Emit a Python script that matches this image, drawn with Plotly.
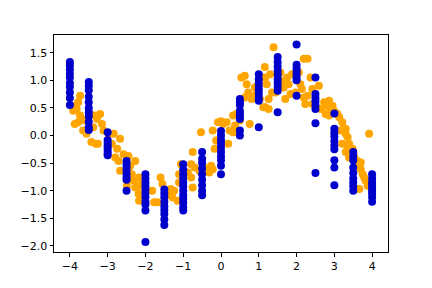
import plotly.graph_objects as go

# Blue: samples at discrete x positions
blue_x_levels = [-4, -3.5, -3, -2.5, -2, -1.5, -1, -0.5, 0, 0.5, 1, 1.5, 2, 2.5, 3, 3.5, 4]
blue_y_groups = [
    [1.33, 1.27, 1.2, 1.12, 1.05, 0.95, 0.88, 0.78, 0.68, 0.55],
    [0.97, 0.9, 0.82, 0.7, 0.6, 0.5, 0.42, 0.35, 0.25, 0.15, 0.1],
    [0.06, -0.08, -0.13, -0.18, -0.22, -0.27, -0.32, -0.36],
    [-0.46, -0.52, -0.58, -0.64, -0.7, -0.76, -0.8, -1.0],
    [-0.7, -0.78, -0.85, -0.92, -0.98, -1.05, -1.12, -1.2, -1.25, -1.36, -1.93],
    [-0.98, -1.05, -1.12, -1.2, -1.28, -1.35, -1.42, -1.52, -1.62],
    [-0.52, -0.62, -0.7, -0.78, -0.85, -0.92, -1.0, -1.08, -1.15, -1.22, -1.3, -1.36],
    [-0.3, -0.42, -0.5, -0.6, -0.7, -0.8, -0.9, -1.0, -1.08],
    [0.08, 0.0, -0.08, -0.15, -0.22, -0.3, -0.38, -0.45, -0.55, -0.7],
    [0.66, 0.6, 0.55, 0.45, 0.4, 0.35, 0.3, 0.09, 0.0],
    [1.11, 1.02, 0.95, 0.88, 0.82, 0.75, 0.68, 0.63, 0.15],
    [1.42, 1.33, 1.25, 1.17, 1.1, 1.02, 0.95, 0.88, 0.81, 0.42],
    [1.65, 1.28, 1.22, 1.16, 1.1, 1.04, 1.0, 0.72],
    [1.05, 0.75, 0.68, 0.62, 0.55, 0.48, 0.22, -0.68],
    [0.4, 0.12, 0.05, -0.02, -0.1, -0.18, -0.25, -0.45, -0.58, -0.9],
    [-0.3, -0.38, -0.45, -0.58, -0.68, -0.78, -0.85, -0.92, -1.0],
    [-0.7, -0.78, -0.85, -0.9, -0.95, -1.0, -1.05, -1.12, -1.2],
]

# Orange: noisy samples at scattered x positions
orange_x = [
    -3.73, -3.78, -3.82, -3.91, -3.87, -3.73, -3.78, -3.60, -3.65, -3.56, -3.43, -3.31, -3.38, -3.34, -3.47, -3.96,
    -3.20, -3.28, -3.15, -3.11, -3.26, -2.98, -2.84, -2.89, -2.75, -2.80, -2.67, -2.71, -2.58, -2.45, -2.40, -2.36,
    -2.27, -2.49, -2.27, -2.18, -2.67, -2.45, -2.31,
    -2.17, -2.08, -2.17, -2.13, -2.17, -1.82, -1.77, -1.68, -1.60, -1.55, -1.42, -1.33, -1.24, -1.29, -1.11, -1.11, -1.15,
    -1.06, -0.75, -0.79, -0.70, -0.79, -0.75, -0.88, -0.53, -0.57, -0.44, -0.35, -0.26, -0.22, -0.17, -0.13, -0.22,
    -0.08, 0.0, -0.31,
    0.06, 0.15, 0.23, 0.19, 0.32, 0.32, 0.41, 0.37, 0.54, 0.63, 0.50, 0.72, 0.76, 0.81, 0.76, 0.90, 0.94, 0.99,
    1.03, 1.07, 1.12, 1.16, 0.63, 0.68,
    1.17, 1.21, 1.26, 1.30, 1.35, 1.39, 1.44, 1.57, 1.61, 1.66, 1.70, 1.75, 1.79, 1.84, 1.88, 2.10, 2.14, 2.19,
    2.19, 2.23, 1.17, 1.26, 1.97, 2.06,
    2.29, 2.37, 2.42, 2.29, 2.42, 2.59, 2.73, 2.77, 2.86, 2.90, 2.95, 2.99, 3.08, 3.13, 3.21, 3.26, 3.30, 3.35,
    3.39, 2.77, 2.64, 2.86, 3.17, 3.21, 3.30,
    3.30, 3.35, 3.39, 3.44, 3.52, 3.61, 3.66, 3.70, 3.75, 3.79, 3.83, 3.88, 3.92, 3.66, 3.48, 3.70,
]
orange_y = [
    0.72, 0.60, 0.48, 0.45, 0.21, 0.36, 0.24, 0.27, 0.09, 0.03, -0.12, -0.15, 0.15, 0.36, 0.39, 0.54,
    0.39, 0.30, 0.21, 0.09, -0.15, 0.03, 0.03, -0.15, -0.24, -0.40, -0.06, -0.46, -0.34, -0.37, -0.55, -0.70,
    -0.46, -0.91, -0.94, -1.06, -0.64, -0.58, -0.82,
    -0.91, -0.82, -0.76, -1.06, -1.18, -1.0, -1.21, -1.21, -0.76, -0.88, -1.06, -0.97, -1.0, -1.12, -0.70, -0.85, -1.18,
    -0.52, -0.30, -0.52, -0.58, -0.76, -0.94, -0.67, 0.06, -0.64, -0.58, -0.64, -0.55, -0.61, -0.24, -0.09, 0.09,
    0.24, 0.26, -0.67,
    0.21, 0.24, 0.09, -0.15, 0.36, 0.06, 0.39, 0.18, 1.05, 1.08, 0.27, 0.78, 0.72, 0.66, 0.21, 0.87, 0.75, 0.93,
    0.66, 1.05, 0.51, 1.24, 0.69, 0.93,
    1.05, 0.93, 0.66, 1.11, 0.78, 1.60, 0.78, 1.14, 0.99, 0.87, 0.66, 1.05, 0.93, 0.75, 1.11, 0.93, 0.84, 1.39,
    0.69, 0.57, 0.51, 0.48, 0.78, 1.14,
    1.39, 1.05, 0.84, 0.72, 0.57, 0.90, 0.60, 0.54, 0.63, 0.48, 0.54, 0.45, 0.39, 0.33, 0.24, 0.12, 0.03, -0.21,
    -0.40, 0.39, 0.48, 0.36, 0.09, -0.15, -0.30,
    0.12, -0.03, -0.15, -0.24, -0.37, -0.46, -0.55, -0.61, -0.70, -0.76, -0.82, -0.91, 0.03, -0.97, -0.24, -0.49,
]

x_ticks = [-4, -3, -2, -1, 0, 1, 2, 3, 4]
x_tick_labels = ["\u22124", "\u22123", "\u22122", "\u22121", "0", "1", "2", "3", "4"]
y_ticks = [1.5, 1.0, 0.5, 0.0, -0.5, -1.0, -1.5, -2.0]
y_tick_labels = ["1.5", "1.0", "0.5", "0.0", "\u22120.5", "\u22121.0", "\u22121.5", "\u22122.0"]

bx, by = [], []
for xv, ys in zip(blue_x_levels, blue_y_groups):
    for yv in ys:
        bx.append(xv)
        by.append(yv)

fig = go.Figure()
fig.add_trace(go.Scatter(x=orange_x, y=orange_y, mode="markers",
                         marker=dict(color="#FFA500", size=8, line=dict(width=0)),
                         showlegend=False, hoverinfo="skip"))
fig.add_trace(go.Scatter(x=bx, y=by, mode="markers",
                         marker=dict(color="#0000CD", size=8, line=dict(width=0)),
                         showlegend=False, hoverinfo="skip"))

axis_common = dict(showgrid=False, zeroline=False, showline=True, linecolor="black",
                   linewidth=1, mirror=True, ticks="outside", ticklen=3.5, tickcolor="black",
                   tickwidth=1, tickfont=dict(family="DejaVu Sans", size=11, color="black"))
fig.update_xaxes(range=[-4.42, 4.42], tickmode="array", tickvals=x_ticks,
                 ticktext=x_tick_labels, **axis_common)
fig.update_yaxes(range=[-2.11, 1.82], tickmode="array", tickvals=y_ticks,
                 ticktext=y_tick_labels, **axis_common)
fig.update_layout(width=432, height=288, margin=dict(l=54, r=43.5, t=35, b=36),
                  plot_bgcolor="white", paper_bgcolor="white")
fig.write_html("out.html")
